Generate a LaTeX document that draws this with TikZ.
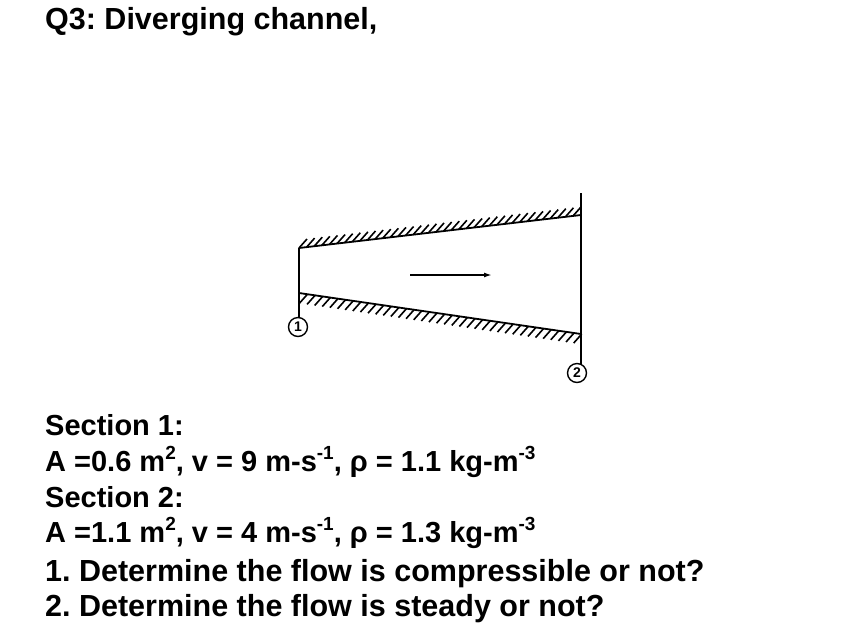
\documentclass[tikz,border=0pt]{standalone}
\usepackage{fontspec}
\setmainfont{Liberation Sans}
\usetikzlibrary{calc,arrows.meta}
\newcommand{\sps}[1]{\raisebox{0.42em}{\fontsize{19}{19}\selectfont #1}}
\begin{document}
\frenchspacing
\begin{tikzpicture}[x=1pt,y=-1pt,
  wall/.style={line width=1.8pt},
  hatch/.style={line width=1.6pt},
  txt/.style={anchor=west,inner sep=0pt,font=\bfseries\fontsize{29}{32}\selectfont},
  qtxt/.style={anchor=west,inner sep=0pt,font=\bfseries\fontsize{30.5}{33}\selectfont},
  lbl/.style={circle,draw,line width=1.4pt,inner sep=1pt,minimum size=19pt,font=\bfseries\fontsize{14}{14}\selectfont}]
\useasboundingbox (0,0) rectangle (859,633);
\node[qtxt] (title) at (45,22) {Q3: Diverging channel,};
\coordinate (TL) at (299,248);
\coordinate (TR) at (581,215);
\coordinate (BL) at (299,293);
\coordinate (BR) at (581,334);
\coordinate (LW) at (299,317);
\coordinate (RT) at (581,193);
\coordinate (RB) at (581,364);
\draw[wall] (TL) -- (TR);
\draw[wall] (BL) -- (BR);
\draw[wall] (TL) -- (LW);
\draw[wall] (RT) -- (RB);
\foreach \t in {0,0.027,...,0.99}{
  \draw[hatch] ($(TL)!\t!(TR)$) -- ++(8,-9);
}
\foreach \t in {0.03,0.057,...,1.01}{
  \draw[hatch] ($(BL)!\t!(BR)$) -- ++(-8,9);
}
\node[lbl] (c1) at (298,327) {1};
\node[lbl] (c2) at (577,373) {2};
\coordinate (a1) at (410,275);
\coordinate (a2) at (492,275);
\draw[line width=1.8pt,-{Latex[length=8pt,width=5pt]}] (a1) -- (a2);
\node[txt] (s1) at (45,425) {Section 1:};
\node[txt] (l1) at (45,462) {A =0.6 m\sps{2}, v = 9 m-s\sps{-1}, ρ = 1.1 kg-m\sps{-3}};
\node[txt] (s2) at (45,497) {Section 2:};
\node[txt] (l2) at (45,533) {A =1.1 m\sps{2}, v = 4 m-s\sps{-1}, ρ = 1.3 kg-m\sps{-3}};
\node[qtxt] (q1) at (45,574) {1. Determine the flow is compressible or not?};
\node[qtxt] (q2) at (45,609) {2. Determine the flow is steady or not?};
\end{tikzpicture}
\end{document}
